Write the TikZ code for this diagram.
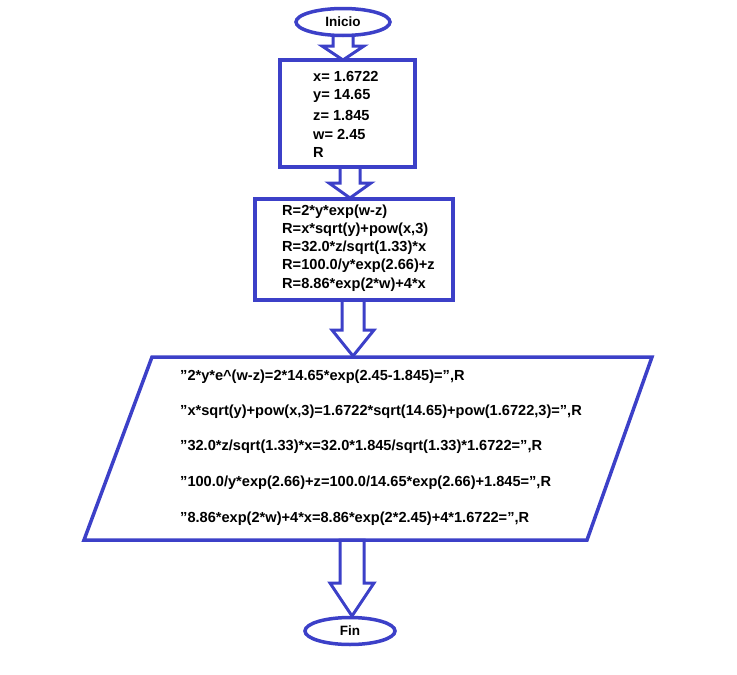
\documentclass[tikz,border=0pt]{standalone}
\usepackage{fontspec}
\setmainfont{Liberation Sans}
\usetikzlibrary{shapes.geometric,positioning}
\definecolor{fblue}{RGB}{60,64,200}
\newcommand{\q}{\symbol{34}}
\tikzset{
  line/.style={draw=fblue,line width=3.5pt},
  term/.style={line,ellipse,fill=white,font=\bfseries\fontsize{13.5}{15}\selectfont,inner sep=0pt},
  txt/.style={font=\bfseries\fontsize{14.6}{16}\selectfont,anchor=west,inner sep=0pt},
}
% hollow block arrow: top y, head start y, tip y, centre x, half shaft, half head
\newcommand{\blockarrow}[6]{%
  \draw[line,line width=3pt,fill=white,line join=miter]
    (#4-#5,-#1) -- (#4-#5,-#2) -- (#4-#6,-#2) -- (#4,-#3) --
    (#4+#6,-#2) -- (#4+#5,-#2) -- (#4+#5,-#1) -- cycle;}
\begin{document}
\begin{tikzpicture}[x=1pt,y=1pt]
  \useasboundingbox (0,0) rectangle (737,-675);

  % arrows
  \blockarrow{34}{46}{60}{343}{10}{21}
  \blockarrow{167}{183}{198}{350}{10}{21}
  \blockarrow{300}{330}{356}{353}{11}{21}
  \blockarrow{540}{583}{616}{352}{12}{22}

  % start / end
  \node[term,minimum width=94pt,minimum height=27pt] (inicio) at (343,-22) {Inicio};
  \node[term,minimum width=90pt,minimum height=27pt] (fin) at (350,-631) {Fin};

  % data
  \draw[line] (280,-60) rectangle (415,-167);
  \node[txt] (x) at (313,-76)  {x= 1.6722};
  \node[txt] (y) at (313,-96)  {y= 14.65};
  \node[txt] (z) at (313,-115) {z= 1.845};
  \node[txt] (w) at (313,-134) {w= 2.45};
  \node[txt] (r) at (313,-152) {R};

  % process
  \draw[line] (255,-199) rectangle (453,-300);
  \node[txt] (p1) at (282,-212) {R=2*y*exp(w-z)};
  \node[txt] (p2) at (282,-230) {R=x*sqrt(y)+pow(x,3)};
  \node[txt] (p3) at (282,-248) {R=32.0*z/sqrt(1.33)*x};
  \node[txt] (p4) at (282,-266) {R=100.0/y*exp(2.66)+z};
  \node[txt] (p5) at (282,-285) {R=8.86*exp(2*w)+4*x};

  % output
  \draw[line,line join=miter] (152,-357) -- (652,-357) -- (587,-540) -- (84,-540) -- cycle;
  \node[txt] (o1) at (180,-377) {\q2*y*e\^{}(w-z)=2*14.65*exp(2.45-1.845)=\q,R};
  \node[txt] (o2) at (180,-412) {\q x*sqrt(y)+pow(x,3)=1.6722*sqrt(14.65)+pow(1.6722,3)=\q,R};
  \node[txt] (o3) at (180,-447) {\q32.0*z/sqrt(1.33)*x=32.0*1.845/sqrt(1.33)*1.6722=\q,R};
  \node[txt] (o4) at (180,-483) {\q100.0/y*exp(2.66)+z=100.0/14.65*exp(2.66)+1.845=\q,R};
  \node[txt] (o5) at (180,-519) {\q8.86*exp(2*w)+4*x=8.86*exp(2*2.45)+4*1.6722=\q,R};
\end{tikzpicture}
\end{document}
